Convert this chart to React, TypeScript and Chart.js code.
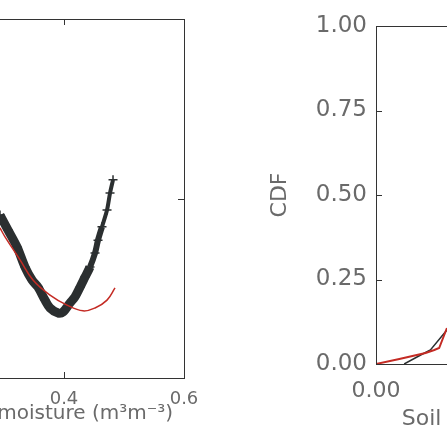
import React, { useEffect, useRef } from "react";
import { Chart, registerables } from "chart.js";
Chart.register(...registerables);

// ---- Left panel: soil moisture vs. (normalised) response ----
const obsMoisture = [0.2933, 0.3067, 0.3217, 0.335, 0.3467, 0.3567, 0.3683, 0.3767, 0.39, 0.3983, 0.41, 0.4183, 0.4267, 0.435, 0.4433, 0.4517, 0.4567, 0.4633, 0.4717, 0.4767, 0.4817];
const obsResponse = [0.454, 0.412, 0.365, 0.309, 0.273, 0.253, 0.217, 0.195, 0.181, 0.184, 0.209, 0.226, 0.253, 0.281, 0.309, 0.348, 0.384, 0.421, 0.468, 0.515, 0.552];
const fitMoisture = [0.2933, 0.3017, 0.3267, 0.3483, 0.3767, 0.405, 0.4317, 0.4517, 0.4717, 0.485];
const fitResponse = [0.418, 0.393, 0.329, 0.273, 0.231, 0.203, 0.187, 0.195, 0.217, 0.251];
const leftXTicks = [0.2, 0.4, 0.6];
const leftYTicks = [0, 0.5, 1];

// ---- Right panel: CDF of soil moisture ----
const cdfModelX = [0, 0.048, 0.102, 0.12, 0.13, 0.146];
const cdfModelY = [0, 0.0148, 0.0325, 0.0414, 0.0473, 0.1065];
const cdfObsX = [0.058, 0.092, 0.112, 0.146];
const cdfObsY = [0, 0.0266, 0.0414, 0.1006];
const rightXTicks = [0, 0.3, 0.6];
const rightYTicks = [0, 0.25, 0.5, 0.75, 1];

const FONT = "'DejaVu Sans', sans-serif";
const TEXT = "#6a6a6a";
const AXIS = "#333";

const framePlugin = {
  id: "frame",
  afterDatasetsDraw(chart: any, _args: any, opts: any) {
    const { ctx, chartArea: a, scales } = chart;
    ctx.save();
    ctx.strokeStyle = AXIS;
    ctx.lineWidth = 1;
    ctx.strokeRect(Math.round(a.left) + 0.5, Math.round(a.top) + 0.5, Math.round(a.right - a.left), Math.round(a.bottom - a.top));
    const L = 6;
    ctx.beginPath();
    (opts.xTicks || []).forEach((v: number) => {
      const x = Math.round(scales.x.getPixelForValue(v)) + 0.5;
      ctx.moveTo(x, a.bottom); ctx.lineTo(x, a.bottom - L);
      ctx.moveTo(x, a.top); ctx.lineTo(x, a.top + L);
    });
    (opts.yTicks || []).forEach((v: number) => {
      const y = Math.round(scales.y.getPixelForValue(v)) + 0.5;
      ctx.moveTo(a.left, y); ctx.lineTo(a.left + L, y);
      ctx.moveTo(a.right, y); ctx.lineTo(a.right - L, y);
    });
    ctx.stroke();
    ctx.restore();
  },
};

function pts(xs: number[], ys: number[]) {
  return xs.map((x, i) => ({ x, y: ys[i] }));
}

function LeftChart() {
  const ref = useRef<HTMLCanvasElement>(null);
  useEffect(() => {
    const chart = new Chart(ref.current!, {
      type: "line",
      data: {
        datasets: [
          {
            data: pts(fitMoisture, fitResponse),
            borderColor: "#c42b24",
            borderWidth: 1.5,
            pointRadius: 0,
            tension: 0.4,
            order: 0,
          },
          {
            data: pts(obsMoisture, obsResponse),
            borderColor: "#2b2f30",
            borderWidth: 8,
            segment: { borderWidth: (c: any) => (c.p0DataIndex >= 17 ? 4 : c.p0DataIndex >= 14 ? 6 : 9) } as any,
            pointStyle: "cross",
            pointRadius: 4.5,
            pointBorderWidth: 1.5,
            pointBorderColor: "#2b2f30",
            tension: 0.3,
            order: 1,
          },
        ],
      },
      options: {
        responsive: false,
        animation: false,
        events: [],
        layout: { padding: { top: 19, right: 30, left: 0, bottom: 0 } },
        plugins: { legend: { display: false }, tooltip: { enabled: false }, frame: { xTicks: leftXTicks, yTicks: leftYTicks } } as any,
        scales: {
          x: {
            type: "linear",
            min: 0.2,
            max: 0.6,
            afterBuildTicks: (s: any) => { s.ticks = leftXTicks.map((v) => ({ value: v })); },
            afterFit: (s: any) => { s.height = 69; },
            grid: { display: false, drawTicks: false },
            border: { display: false },
            ticks: { autoSkip: false, maxRotation: 0, padding: 11, color: TEXT, font: { family: FONT, size: 18 }, callback: (v: any) => Number(v).toFixed(1) },
            title: { display: true, text: "Soil moisture (m³m⁻³)", color: TEXT, font: { family: FONT, size: 20 }, padding: { top: 0, bottom: 21 } },
          },
          y: {
            type: "linear",
            min: 0,
            max: 1,
            afterBuildTicks: (s: any) => { s.ticks = leftYTicks.map((v) => ({ value: v })); },
            afterFit: (s: any) => { s.width = 60; },
            grid: { display: false, drawTicks: false },
            border: { display: false },
            ticks: { display: false },
          },
        },
      },
      plugins: [framePlugin],
    });
    return () => chart.destroy();
  }, []);
  return <canvas ref={ref} width={330} height={447} style={{ position: "absolute", left: -116, top: 0 }} />;
}

function RightChart() {
  const ref = useRef<HTMLCanvasElement>(null);
  useEffect(() => {
    const chart = new Chart(ref.current!, {
      type: "line",
      data: {
        datasets: [
          {
            data: pts(cdfModelX, cdfModelY),
            borderColor: "#c42b24",
            borderWidth: 2,
            pointRadius: 0,
            tension: 0,
            order: 0,
          },
          {
            data: pts(cdfObsX, cdfObsY),
            borderColor: "#2b2f30",
            borderWidth: 1.5,
            pointRadius: 0,
            tension: 0,
            order: 1,
          },
        ],
      },
      options: {
        responsive: false,
        animation: false,
        events: [],
        layout: { padding: { top: 26, right: 30, left: 0, bottom: 0 } },
        plugins: { legend: { display: false }, tooltip: { enabled: false }, frame: { xTicks: rightXTicks, yTicks: rightYTicks } } as any,
        scales: {
          x: {
            type: "linear",
            min: 0,
            max: 0.6,
            afterBuildTicks: (s: any) => { s.ticks = rightXTicks.map((v) => ({ value: v })); },
            afterFit: (s: any) => { s.height = 83; },
            grid: { display: false, drawTicks: false },
            border: { display: false },
            ticks: { autoSkip: false, maxRotation: 0, padding: 14, color: TEXT, font: { family: FONT, size: 22 }, callback: (v: any) => Number(v).toFixed(2) },
            title: { display: true, text: "Soil moisture (m³m⁻³)", color: TEXT, font: { family: FONT, size: 22 }, padding: { top: 0, bottom: 15 } },
          },
          y: {
            type: "linear",
            min: 0,
            max: 1,
            afterBuildTicks: (s: any) => { s.ticks = rightYTicks.map((v) => ({ value: v })); },
            afterFit: (s: any) => { s.width = 126; },
            grid: { display: false, drawTicks: false },
            border: { display: false },
            ticks: { padding: 9, color: TEXT, font: { family: FONT, size: 23 }, callback: (v: any) => Number(v).toFixed(2) },
            title: { display: true, text: "CDF", color: TEXT, font: { family: FONT, size: 22 }, padding: { top: 17, bottom: 0 } },
          },
        },
      },
      plugins: [framePlugin],
    });
    return () => chart.destroy();
  }, []);
  return <canvas ref={ref} width={456} height={447} style={{ position: "absolute", left: 250, top: 0 }} />;
}

export default function App() {
  return (
    <div style={{ position: "fixed", left: 0, top: 0, width: 447, height: 447, overflow: "hidden", background: "#fff" }}>
      <LeftChart />
      <RightChart />
    </div>
  );
}
